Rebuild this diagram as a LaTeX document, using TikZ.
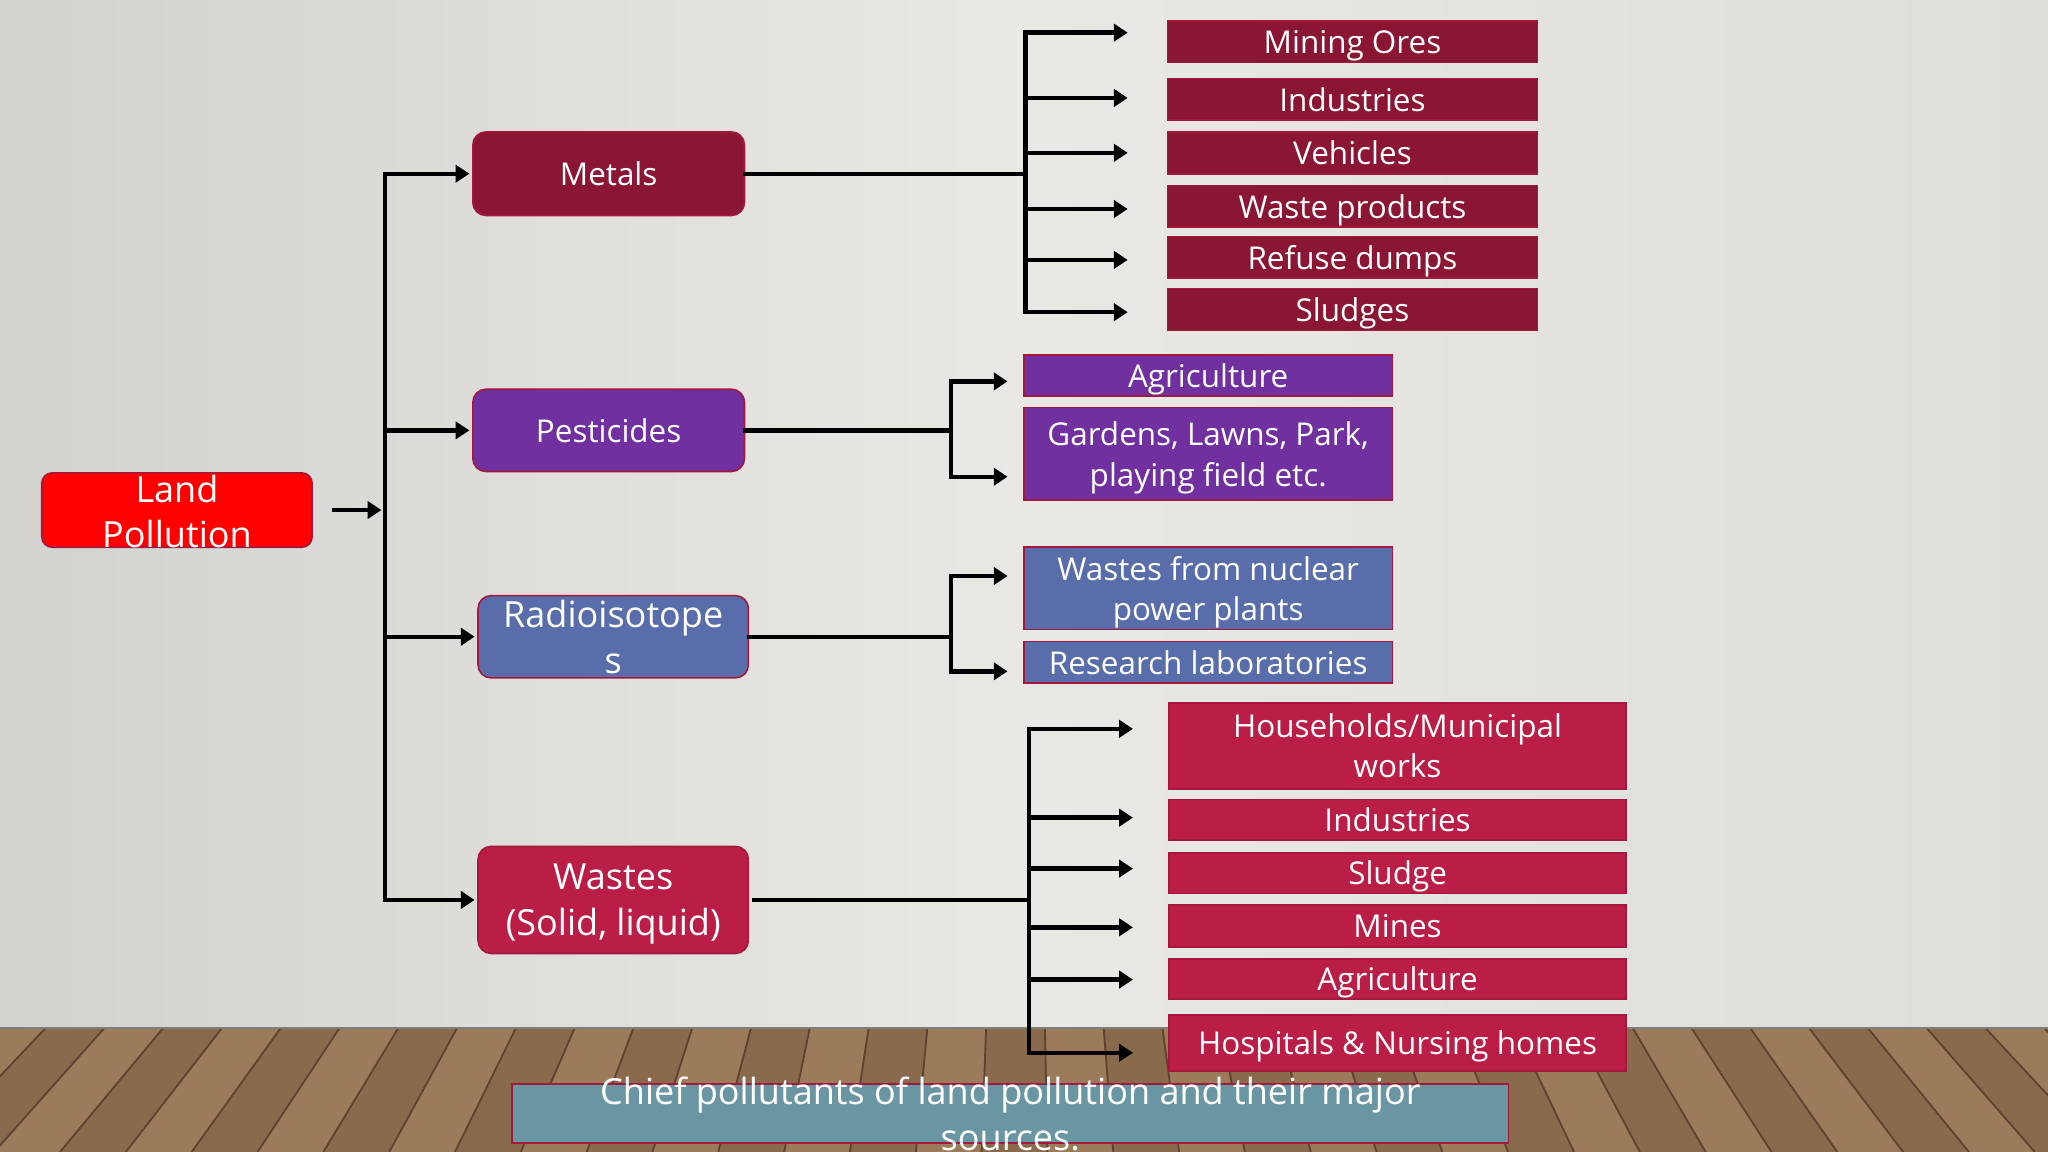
\documentclass[tikz,border=0pt]{standalone}
\usepackage{fontspec}
\setmainfont{Open Sans}
\usetikzlibrary{arrows.meta,positioning}
\definecolor{wallc}{HTML}{EAE8E5}
\definecolor{walld}{HTML}{D4D2CE}
\definecolor{woodc}{HTML}{8A6A4C}
\definecolor{woodl}{HTML}{9C7B5A}
\definecolor{woodd}{HTML}{5E4330}
\definecolor{metc}{HTML}{8B1634}
\definecolor{pesc}{HTML}{7030A0}
\definecolor{radc}{HTML}{586DA9}
\definecolor{wasc}{HTML}{BA1D45}
\definecolor{capc}{HTML}{6A96A3}
\definecolor{edgec}{HTML}{A3193D}
\newlength\pxu \setlength\pxu{0.02cm}
\tikzset{
  ar/.style={-{Triangle[length=6pt,width=7.5pt]},line width=1.9pt,black,line cap=rect},
  ln/.style={line width=1.9pt,black,line cap=rect},
  sz/.style 2 args={minimum width=#1\pxu,minimum height=#2\pxu},
  one/.style={text height=1.1em,text depth=0.07em},
  two/.style={text depth=0pt},
  sbox/.style={draw=edgec,line width=0.7pt,inner sep=0pt,text=white,align=center,font=\fontsize{13.7}{17.6}\selectfont},
  mbox/.style={sbox,rounded corners=10\pxu},
  big/.style={font=\fontsize{15.7}{19.9}\selectfont},
  btxt/.style={text=white,align=center,inner sep=0pt,big}
}
\begin{document}
\begin{tikzpicture}[x=0.02cm,y=-0.02cm]
\useasboundingbox (0,0) rectangle (1568,882);
% wall and floor
\shade[left color=walld,right color=walld!50!wallc,middle color=wallc] (0,0) rectangle (1568,787);
\fill[woodc] (0,787) rectangle (1568,882);
\foreach \xx [count=\i] in {-100,-55,...,1700}{
 \ifodd\i \def\cl{woodl}\else\def\cl{woodc}\fi
 \fill[\cl] (\xx,787) -- (\xx+45,787) -- ({784+(\xx+45-784)*1.12},882) -- ({784+(\xx-784)*1.12},882) -- cycle;
 \draw[woodd,line width=0.8pt] (\xx,787) -- ({784+(\xx-784)*1.12},882);}
\draw[walld!60!black,line width=1pt] (0,787) -- (1568,787);

% main boxes
\node[mbox,fill=red,sz={207}{57},rounded corners=8\pxu] (land) at (135.5,390.5) {};
\node[btxt] (landt) at (135.5,391.5) {Land\\Pollution};
\node[mbox,one,fill=metc,sz={208}{64}] (metals) at (466,133) {Metals};
\node[mbox,one,fill=pesc,sz={208}{63}] (pest) at (466,329.5) {Pesticides};
\node[mbox,big,fill=radc,sz={207}{63}] (radio) at (469.5,487.5) {Radioisotope\\s};
\node[mbox,big,two,fill=wasc,sz={207}{82}] (wastes) at (469.5,689) {Wastes\\(Solid, liquid)};

% sources
\foreach \n/\yy/\t in {mo/32/Mining Ores,mi/76/Industries,ve/117/Vehicles,wp/158/Waste products,rd/197/Refuse dumps,sl/237/Sludges}
 \node[sbox,one,fill=metc,sz={283}{32}] (\n) at (1035.5,\yy) {\t};
\node[sbox,one,fill=pesc,sz={282}{31}] (pa) at (925,287.5) {Agriculture};
\node[sbox,two,fill=pesc,sz={282}{71}] (pg) at (925,347.5) {Gardens, Lawns, Park,\\playing field etc.};
\node[sbox,two,fill=radc,sz={282}{63}] (rn) at (925,450.5) {Wastes from nuclear\\power plants};
\node[sbox,one,fill=radc,sz={282}{32}] (rl) at (925,507) {Research laboratories};
\node[sbox,fill=wasc,sz={350}{66}] (wh) at (1070,571) {Households/Municipal\\works};
\foreach \n/\yy/\t/\hh in {wi/627.5/Industries/31,ws/668.5/Sludge/31,wm/709/Mines/32,wa/749.5/Agriculture/31,wn/798.5/Hospitals \& Nursing homes/43}
 \node[sbox,one,fill=wasc,sz={350}{\hh}] (\n) at (1070,\yy) {\t};

% caption
\node[sbox,fill=capc,sz={763}{45}] (cap) at (773.5,852.5) {};
\node[btxt] (capt) at (773.5,853) {Chief pollutants of land pollution and their major\\sources.};

% trunk
\coordinate (trunk) at (295,0);
\draw[ar] ([xshift=16\pxu]land.east) -- ([xshift=-3\pxu]land.east -| trunk);
\draw[ln] (metals.west -| trunk) -- (wastes.west -| trunk);
\foreach \n in {metals,pest,radio,wastes}
 \draw[ar] (\n.west -| trunk) -- ([xshift=-2\pxu]\n.west);

% metals
\coordinate (mbus) at (785,0);
\draw[ln] (metals.east) -- (metals.east -| mbus);
\foreach \n/\dy [count=\i] in {mo/-7,mi/-1,ve/0,wp/2,rd/2,sl/2}
 \coordinate (me\i) at ([shift={(-30,\dy)}]\n.west);
\draw[ln] (me1 -| mbus) -- (me6 -| mbus);
\foreach \i in {1,...,6} \draw[ar] (me\i -| mbus) -- (me\i);

% pesticides and radioisotopes
\coordinate (pbus) at (728,0);
\draw[ln] (pest.east) -- (pest.east -| pbus);
\coordinate (pe1) at ([shift={(-12,4.5)}]pa.west);
\coordinate (pe2) at ([shift={(-12,17.5)}]pg.west);
\draw[ln] (pe1 -| pbus) -- (pe2 -| pbus);
\draw[ar] (pe1 -| pbus) -- (pe1);
\draw[ar] (pe2 -| pbus) -- (pe2);
\draw[ln] (radio.east) -- (radio.east -| pbus);
\coordinate (re1) at ([shift={(-12,-9.5)}]rn.west);
\coordinate (re2) at ([shift={(-12,7)}]rl.west);
\draw[ln] (re1 -| pbus) -- (re2 -| pbus);
\draw[ar] (re1 -| pbus) -- (re1);
\draw[ar] (re2 -| pbus) -- (re2);

% wastes
\coordinate (wbus) at (788,0);
\draw[ln] ([xshift=4\pxu]wastes.east) -- (wastes.east -| wbus);
\foreach \n/\dy [count=\i] in {wh/-13,wi/-1.5,ws/-3.5,wm/1,wa/0.5,wn/7.5}
 \coordinate (we\i) at ([shift={(-27,\dy)}]\n.west);
\draw[ln] (we1 -| wbus) -- (we6 -| wbus);
\foreach \i in {1,...,6} \draw[ar] (we\i -| wbus) -- (we\i);
\end{tikzpicture}
\end{document}
